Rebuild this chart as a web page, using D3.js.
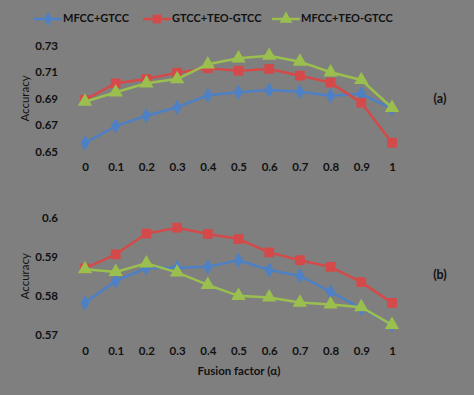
<!DOCTYPE html>
<html><head><meta charset="utf-8">
<script src="https://cdn.jsdelivr.net/npm/d3@7"></script>
<style>body{margin:0;background:#7f7f7f;} svg{display:block;}</style>
</head><body>
<script>
const alphas = [0,0.1,0.2,0.3,0.4,0.5,0.6,0.7,0.8,0.9,1];
const xLabels = ["0","0.1","0.2","0.3","0.4","0.5","0.6","0.7","0.8","0.9","1"];
const seriesNames = ["MFCC+GTCC","GTCC+TEO-GTCC","MFCC+TEO-GTCC"];
const topMfccGtcc   = [0.6565,0.6692,0.6770,0.6834,0.6924,0.6947,0.6964,0.6951,0.6921,0.6934,0.6826];
const topGtccTeo    = [0.6889,0.7015,0.7047,0.7095,0.7128,0.7110,0.7123,0.7072,0.7020,0.6868,0.6566];
const topMfccTeo    = [0.6876,0.6947,0.7015,0.7047,0.7158,0.7204,0.7223,0.7178,0.7098,0.7040,0.6830];
const botMfccGtcc   = [0.5782,0.5838,0.5871,0.5872,0.5874,0.5891,0.5866,0.5851,0.5810,0.5768,0.5726];
const botGtccTeo    = [0.5870,0.5906,0.5959,0.5974,0.5958,0.5945,0.5911,0.5891,0.5874,0.5835,0.5782];
const botMfccTeo    = [0.5868,0.5861,0.5883,0.5860,0.5828,0.5800,0.5796,0.5783,0.5778,0.5771,0.5726];
const topTicks = [0.65,0.67,0.69,0.71,0.73];
const botTicks = [0.57,0.58,0.59,0.6];
const panelLabels = ["(a)","(b)"];

const colors = ["#4d80c4","#d44a4a","#9bbf4f"];
const symbols = [d3.symbolDiamond, d3.symbolSquare, d3.symbolTriangle];
const symSizes = [70, 95, 90];
const font = "Lato, 'Open Sans', sans-serif";
const fs = 11.5;

const W=474,H=395;
const svg=d3.select("body").append("svg").attr("width",W).attr("height",H);
svg.append("rect").attr("width",W).attr("height",H).attr("fill","#7f7f7f");

const x=d3.scalePoint().domain(xLabels).range([85,392]);

function panel(data, ticks, yDomain, yRange, xLabelY, label, labelY){
  const y=d3.scaleLinear().domain(yDomain).range(yRange);
  const g=svg.append("g");
  const ya=d3.axisLeft(y).tickValues(ticks).tickSize(0).tickPadding(0).tickFormat(d=>String(+d.toFixed(2)));
  const yg=g.append("g").attr("transform","translate(58,0)").call(ya);
  yg.select(".domain").remove();
  yg.selectAll("text").attr("font-family",font).attr("font-weight","bold").attr("font-size",fs).attr("fill","#111");
  const xa=d3.axisBottom(x).tickSize(0).tickPadding(0);
  const xg=g.append("g").attr("transform",`translate(0,${xLabelY})`).call(xa);
  xg.select(".domain").remove();
  xg.selectAll("text").attr("font-family",font).attr("font-weight","bold").attr("font-size",fs).attr("fill","#111");
  const mid=(yRange[0]+yRange[1])/2;
  g.append("text").attr("transform",`translate(29,${mid}) rotate(-90)`).attr("text-anchor","middle")
    .attr("font-family",font).attr("font-size",11.5).attr("fill","#111").text("Accuracy");
  g.append("text").attr("x",440).attr("y",labelY).attr("text-anchor","middle").attr("dominant-baseline","middle")
    .attr("font-family",font).attr("font-weight","bold").attr("font-size",12.5).attr("fill","#111").text(label);
  const line=d3.line().x((d,i)=>x(xLabels[i])).y(d=>y(d));
  data.forEach((s,k)=>{
    g.append("path").datum(s).attr("d",line).attr("fill","none").attr("stroke",colors[k]).attr("stroke-width",2.5);
    g.selectAll(null).data(s).enter().append("path")
      .attr("transform",(d,i)=>`translate(${x(xLabels[i])},${y(d)})`)
      .attr("d",d3.symbol().type(symbols[k]).size(symSizes[k])).attr("fill",colors[k]);
  });
}

panel([topMfccGtcc,topGtccTeo,topMfccTeo], topTicks, [0.65,0.73],[151.5,45.5], 163, panelLabels[0], 100);
panel([botMfccGtcc,botGtccTeo,botMfccTeo], botTicks, [0.57,0.6],[335,217.5], 347, panelLabels[1], 276);

svg.append("text").attr("x",239).attr("y",375).attr("text-anchor","middle")
  .attr("font-family",font).attr("font-weight","bold").attr("font-size",11.5).attr("fill","#111").text("Fusion factor (α)");

const legX=[34,143,272];
seriesNames.forEach((n,k)=>{
  const lg=svg.append("g").attr("transform",`translate(${legX[k]},19)`);
  lg.append("line").attr("x1",0).attr("x2",28).attr("stroke",colors[k]).attr("stroke-width",2.5);
  lg.append("path").attr("transform","translate(14,0)").attr("d",d3.symbol().type(symbols[k]).size(symSizes[k]*0.8)).attr("fill",colors[k]);
  lg.append("text").attr("x",29).attr("y",0).attr("dominant-baseline","middle")
    .attr("font-family",font).attr("font-weight","bold").attr("font-size",11).attr("fill","#111").text(n);
});
</script>
</body></html>
